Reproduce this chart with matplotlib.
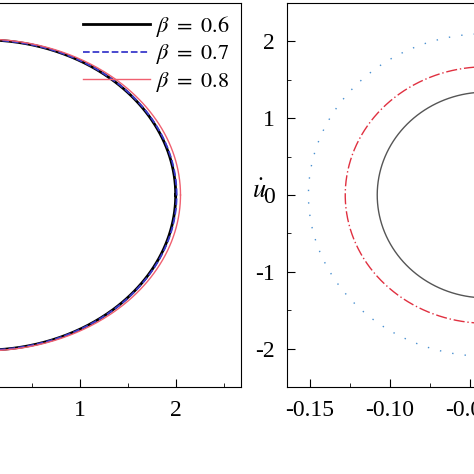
import numpy as np
import matplotlib.pyplot as plt
from matplotlib.ticker import MultipleLocator

plt.rcParams['font.family'] = ['Liberation Serif', 'DejaVu Serif']
plt.rcParams['mathtext.fontset'] = 'stix'

betas = [0.6, 0.7, 0.8]
left_ax = [2.0, 2.01, 2.05]     # semi-axis in u
left_b = [2.02, 2.02, 2.03]     # semi-axis in u-dot
left_colors = ['black', '#3a3acc', '#f06070']
left_styles = ['-', '--', '-']
left_widths = [2.0, 1.3, 1.0]

right_center = -0.04
right_a = [0.068, 0.088, 0.111]
right_b = [1.34, 1.67, 2.10]
right_colors = ['#555555', '#e03040', '#4a90d0']
right_styles = ['-', (0, (8, 2, 1, 2)), (0, (1, 8))]

t = np.linspace(0, 2 * np.pi, 600)
W = 474
fig = plt.figure(figsize=(4.74, 4.74), dpi=100)

ax1 = fig.add_axes([-74 / W, 87 / W, 315 / W, 384 / W])
for b_, a, bb, c, ls, lw in zip(betas, left_ax, left_b, left_colors, left_styles, left_widths):
    ax1.plot(a * np.cos(t), bb * np.sin(t), color=c, ls=ls, lw=lw,
             label=r'$\beta\ =\ %.1f$' % b_)
ax1.set_xlim(-0.6, 2.68)
ax1.set_ylim(-2.5, 2.5)
ax1.xaxis.set_major_locator(MultipleLocator(1))
ax1.xaxis.set_minor_locator(MultipleLocator(0.5))
ax1.tick_params(direction='in', labelsize=17, length=6, pad=9)
ax1.tick_params(which='minor', direction='in', length=3)
ax1.set_yticks([])
ax1.text(-0.2, -3.05, r'$u$', fontsize=18, ha='center', va='center')
ax1.legend(loc='upper right', frameon=False, fontsize=16, handlelength=3.0,
           borderaxespad=0.1, labelspacing=0.15, handletextpad=0.3)

ax2 = fig.add_axes([287 / W, 87 / W, 263 / W, 384 / W])
for a, bb, c, ls in zip(right_a, right_b, right_colors, right_styles):
    ax2.plot(right_center + a * np.cos(t), bb * np.sin(t), color=c, ls=ls, lw=1.0)
ax2.set_xlim(-0.1644, 0.0)
ax2.set_ylim(-2.5, 2.5)
ax2.set_xticks([-0.15, -0.10, -0.05])
ax2.set_xticklabels(['-0.15', '-0.10', '-0.05'])
ax2.xaxis.set_minor_locator(MultipleLocator(0.025))
ax2.yaxis.set_minor_locator(MultipleLocator(0.5))
ax2.set_yticks([-2, -1, 0, 1, 2])
ax2.set_yticklabels(['-2', '-1', '0', '1', '2'])
ax2.tick_params(direction='in', labelsize=17, length=6, pad=9)
ax2.tick_params(which='minor', direction='in', length=3)
ax2.text(-0.1815, 0.05, r'$\dot{u}$', fontsize=19, ha='center', va='center')

fig.savefig('out.png', dpi=100)
